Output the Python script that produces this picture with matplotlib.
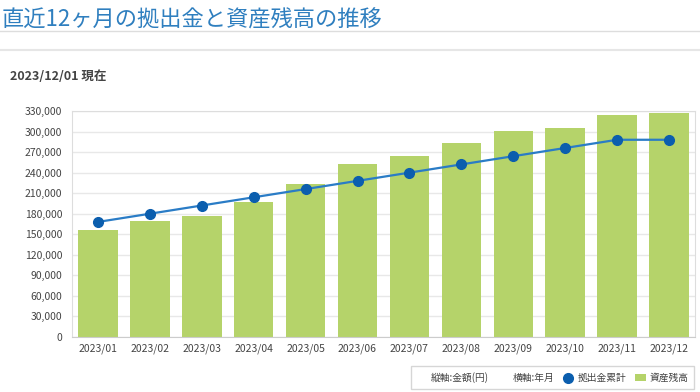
import matplotlib
matplotlib.use("Agg")
import matplotlib.pyplot as plt
from matplotlib.lines import Line2D
from matplotlib.patches import Patch
from matplotlib.ticker import FuncFormatter

plt.rcParams['font.family'] = ['Noto Sans CJK JP', 'DejaVu Sans']

months = ['2023/01', '2023/02', '2023/03', '2023/04', '2023/05', '2023/06',
          '2023/07', '2023/08', '2023/09', '2023/10', '2023/11', '2023/12']
asset_balance = [156000, 170000, 176500, 197500, 224000, 253000,
                 265000, 284000, 301000, 305000, 324500, 327000]
contrib_cum = [168000, 180000, 192000, 204000, 216000, 228000,
               240000, 252000, 264000, 276000, 288000, 288000]
yticks = [0, 30000, 60000, 90000, 120000, 150000, 180000, 210000,
          240000, 270000, 300000, 330000]

fig = plt.figure(figsize=(7, 3.92), dpi=100)
fig.patch.set_facecolor('white')

fig.text(0.002, 1 - 27/392, '直近12ヶ月の拠出金と資産残高の推移', color='#2f7fbf',
         fontsize=16, ha='left', va='baseline')
fig.add_artist(Line2D([0, 1], [1 - 31/392, 1 - 31/392], color='#dddddd', lw=1))
fig.add_artist(Line2D([0, 1], [1 - 50/392, 1 - 50/392], color='#e6e6e6', lw=1.5))
fig.text(0.014, 1 - 76/392, '2023/12/01 現在', color='#444444', fontsize=9,
         fontweight='bold', ha='left', va='center')

ax = fig.add_axes([72/700, 1 - 337/392, (695 - 72)/700, (337 - 111)/392])
x = list(range(len(months)))
ax.bar(x, asset_balance, width=0.76, color='#b5d36a', zorder=2)
ax.plot(x, contrib_cum, color='#2a7cc6', lw=1.6, marker='o', markersize=7,
        markerfacecolor='#0b5eae', markeredgecolor='#0b5eae', zorder=3)

ax.set_xlim(-0.5, len(months) - 0.5)
ax.set_ylim(0, 330000)
ax.set_yticks(yticks)
ax.yaxis.set_major_formatter(FuncFormatter(lambda v, p: f'{int(v):,}'))
ax.set_xticks(x)
ax.set_xticklabels(months)
ax.tick_params(axis='both', labelsize=7.5, colors='#444444', length=0)
ax.tick_params(axis='y', pad=7)
ax.tick_params(axis='x', pad=5)
ax.grid(axis='y', color='#e8e8e8', lw=1, zorder=0)
for s in ['top', 'right', 'left']:
    ax.spines[s].set_color('#dddddd')
ax.spines['bottom'].set_color('#cccccc')

handles = [
    Line2D([], [], linestyle='none', label='縦軸:金額(円)'),
    Line2D([], [], linestyle='none', label='横軸:年月'),
    Line2D([], [], linestyle='none', marker='o', markersize=7,
           color='#0b5eae', label='拠出金累計'),
    Patch(facecolor='#b5d36a', label='資産残高'),
]
leg = fig.legend(handles=handles, loc='lower right', bbox_to_anchor=(0.999, -0.005),
                 ncol=4, fontsize=7, frameon=True, fancybox=False,
                 edgecolor='#cccccc', handlelength=1.1, handletextpad=0.4,
                 columnspacing=0.9, borderpad=0.6)
for t in leg.get_texts():
    t.set_color('#444444')

fig.savefig('out.png', dpi=100, facecolor='white')
